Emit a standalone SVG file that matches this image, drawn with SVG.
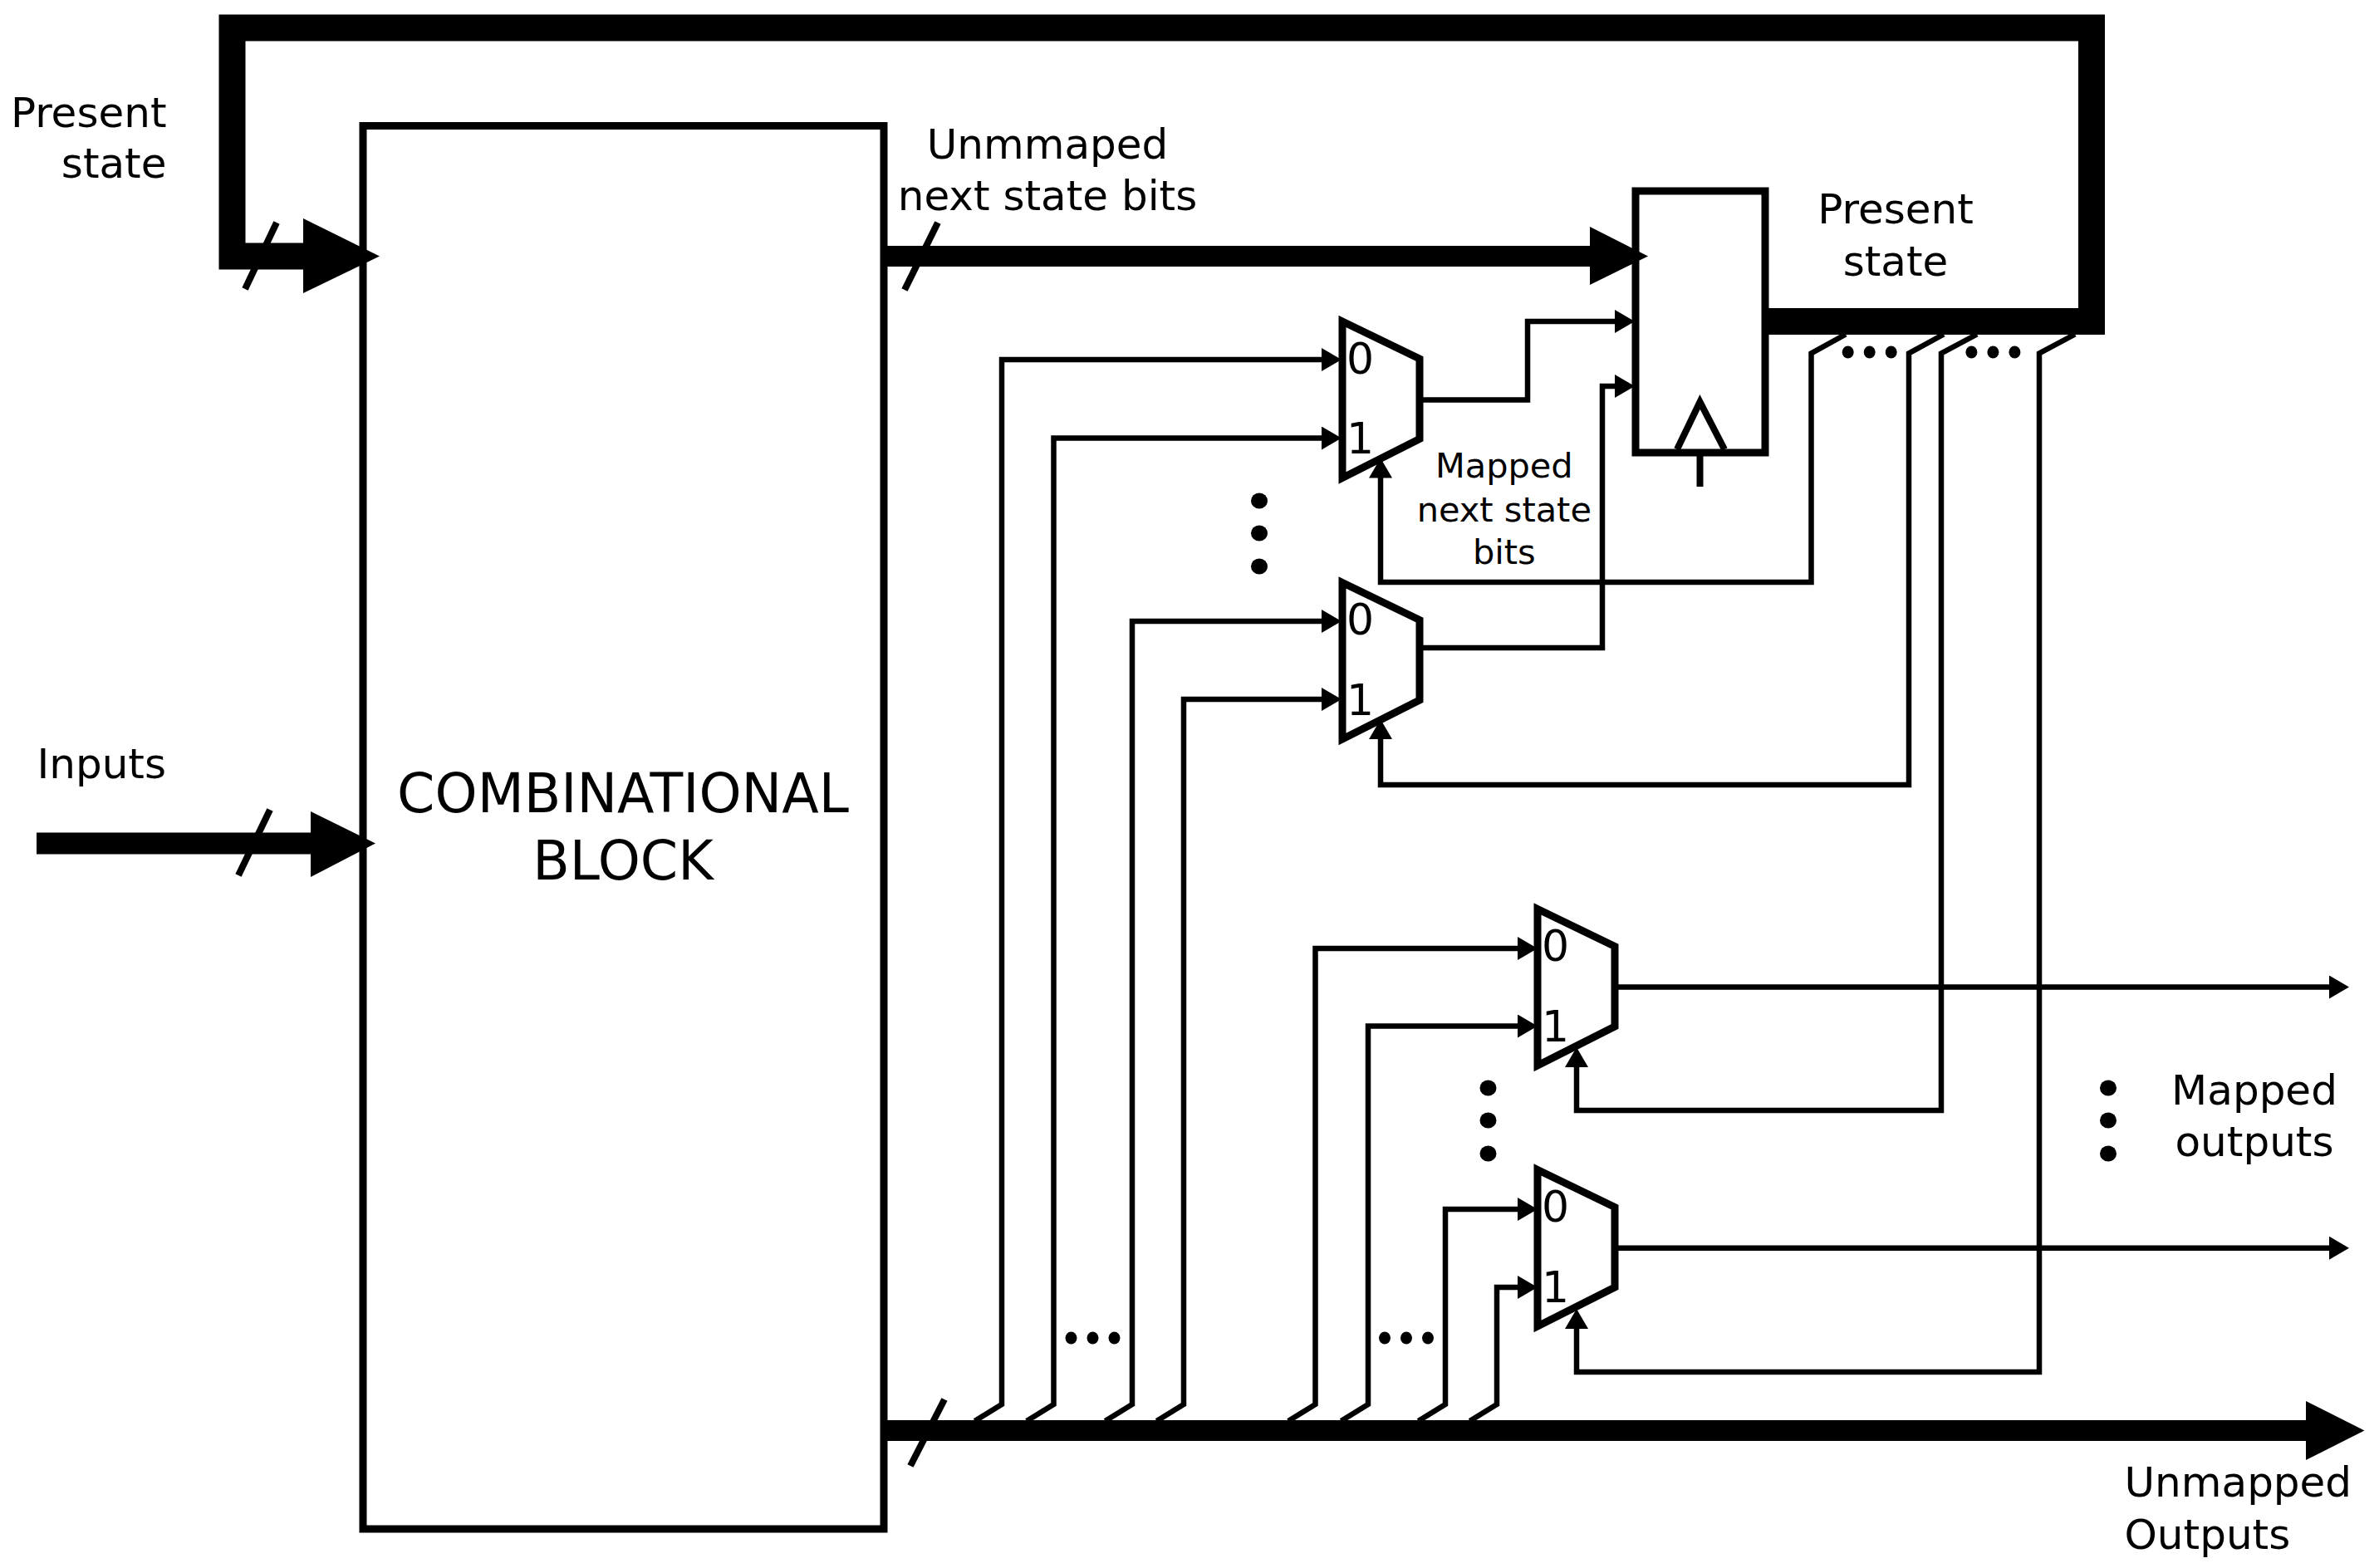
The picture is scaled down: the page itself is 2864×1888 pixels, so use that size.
<svg xmlns="http://www.w3.org/2000/svg" width="2864" height="1888" viewBox="0 0 2864 1888">
<style>
text{font-family:"DejaVu Sans",sans-serif;fill:#000}
.l{font-size:50px}.m{text-anchor:middle}.e{text-anchor:end}
.big{font-size:65px;text-anchor:middle}.mid{font-size:41.5px;text-anchor:middle}
.box{fill:#fff;stroke:#000;stroke-width:9}
.mux{fill:#fff;stroke:#000;stroke-width:9;stroke-linejoin:miter}
.w{fill:none;stroke:#000;stroke-width:6.5;stroke-linejoin:miter}
.bus{fill:none;stroke:#000;stroke-linejoin:miter}
.sl{stroke:#000;stroke-width:8;fill:none}
.h{fill:#000}
.d{font-size:52px;text-anchor:middle}
</style>
<defs>
<marker id="a" markerUnits="userSpaceOnUse" markerWidth="25" markerHeight="28" refX="9" refY="14" orient="auto"><path d="M0,0L24,14L0,28z"/></marker>
<g id="dv"><ellipse cx="0" cy="0" rx="10" ry="9.500"/><ellipse cx="0" cy="39" rx="10" ry="9.500"/><ellipse cx="0" cy="79" rx="10" ry="9.500"/></g>
<g id="dh"><ellipse cx="0" cy="0" rx="7" ry="7.500"/><ellipse cx="26" cy="0" rx="7" ry="7.500"/><ellipse cx="52" cy="0" rx="7" ry="7.500"/></g>
</defs>
<rect width="2864" height="1888" fill="#fff"/>
<g id="combinational-block">
<rect class="box" x="437" y="151.500" width="627" height="1689.500"/>
<text class="big" x="750" y="978">COMBINATIONAL</text>
<text class="big" x="750" y="1059">BLOCK</text>
</g>
<g id="register">
<rect class="box" x="1969" y="230" width="156" height="315"/>
<path d="M2019,541L2046.500,484L2076,541" fill="none" stroke="#000" stroke-width="8"/>
<path d="M2046.500,546V586" stroke="#000" stroke-width="8"/>
</g>
<g id="connectors">
<path class="bus" stroke-width="32" d="M2125,387H2518V33.500H279.500V308.500H370"/>
<path class="h" d="M365,263L457,308.500L365,353z"/>
<path class="sl" d="M295,348L333,268"/>
<path class="bus" stroke-width="26" d="M44,1015.500H378"/>
<path class="h" d="M374,977L452,1015.500L374,1056z"/>
<path class="sl" d="M287,1054L325,975"/>
<path class="bus" stroke-width="25" d="M1064,308.500H1917"/>
<path class="h" d="M1914,273L1984,308.500L1914,343z"/>
<path class="sl" d="M1089,349L1129,268"/>
<path class="bus" stroke-width="25" d="M1064,1722.500H2780"/>
<path class="h" d="M2776,1687L2846.500,1722.500L2776,1758z"/>
<path class="sl" d="M1096,1765L1137,1685"/>
<path class="w" marker-end="url(#a)" d="M1173.500,1711L1206,1691V433H1600"/>
<path class="w" marker-end="url(#a)" d="M1236,1711L1268.500,1691V527.500H1600"/>
<path class="w" marker-end="url(#a)" d="M1330.500,1711L1363,1691V748H1600"/>
<path class="w" marker-end="url(#a)" d="M1392.500,1711L1425,1691V842H1600"/>
<path class="w" marker-end="url(#a)" d="M1551,1711L1583.500,1691V1142H1836"/>
<path class="w" marker-end="url(#a)" d="M1614.500,1711L1647,1691V1235.500H1836"/>
<path class="w" marker-end="url(#a)" d="M1707.500,1711L1740,1691V1456H1836"/>
<path class="w" marker-end="url(#a)" d="M1769.500,1711L1802,1691V1550H1836"/>
<path class="w" marker-end="url(#a)" d="M1709,481.500H1839V387H1953"/>
<path class="w" marker-end="url(#a)" d="M1709,780H1929V465H1953"/>
<path class="w" marker-end="url(#a)" d="M2222,402.500L2180.500,425.500V701H1662V566.500"/>
<path class="w" marker-end="url(#a)" d="M2340,402.500L2298,425.500V945H1662V881"/>
<path class="w" marker-end="url(#a)" d="M2380,402.500L2337,425.500V1337H1898V1276"/>
<path class="w" marker-end="url(#a)" d="M2498,402.500L2455,425.500V1652H1898V1591"/>
<path class="w" marker-end="url(#a)" d="M1944.500,1188.500H2813"/>
<path class="w" marker-end="url(#a)" d="M1944.500,1502.700H2813"/>
</g>
<g id="mux-1" transform="translate(1619,388)">
<path class="mux" d="M-3,-1L90,44V140.500L-3,187.500z"/><text class="d" x="18.500" y="61.500">0</text><text class="d" x="18.500" y="158">1</text>
</g>
<g id="mux-2" transform="translate(1619,702.500)">
<path class="mux" d="M-3,-1L90,44V140.500L-3,187.500z"/><text class="d" x="18.500" y="61.500">0</text><text class="d" x="18.500" y="158">1</text>
</g>
<g id="mux-3" transform="translate(1854,1095.500)">
<path class="mux" d="M-3,-1L90,44V140.500L-3,187.500z"/><text class="d" x="18.500" y="61.500">0</text><text class="d" x="18.500" y="158">1</text>
</g>
<g id="mux-4" transform="translate(1854,1409.500)">
<path class="mux" d="M-3,-1L90,44V140.500L-3,187.500z"/><text class="d" x="18.500" y="61.500">0</text><text class="d" x="18.500" y="158">1</text>
</g>
<g id="ellipses">
<use href="#dv" x="1516" y="603"/>
<use href="#dv" x="1791.500" y="1310"/>
<use href="#dv" x="2538" y="1310"/>
<use href="#dh" x="1289.500" y="1611"/>
<use href="#dh" x="1667" y="1611"/>
<use href="#dh" x="2224.700" y="424"/>
<use href="#dh" x="2373.400" y="424"/>
</g>
<g id="labels">
<text class="l e" x="200.500" y="152.500">Present</text>
<text class="l e" x="200.500" y="214">state</text>
<text class="l m" x="1261" y="191">Unmmaped</text>
<text class="l m" x="1261" y="253">next state bits</text>
<text class="l m" x="2282" y="268.500">Present</text>
<text class="l m" x="2282" y="331.500">state</text>
<text class="l e" x="200" y="936.500">Inputs</text>
<text class="mid" x="1810.800" y="575">Mapped</text>
<text class="mid" x="1810.800" y="627.500">next state</text>
<text class="mid" x="1810.800" y="679">bits</text>
<text class="l m" x="2714" y="1330">Mapped</text>
<text class="l m" x="2714" y="1392">outputs</text>
<text class="l" x="2557.500" y="1801.500">Unmapped</text>
<text class="l" x="2557.500" y="1864.500">Outputs</text>
</g>
</svg>
